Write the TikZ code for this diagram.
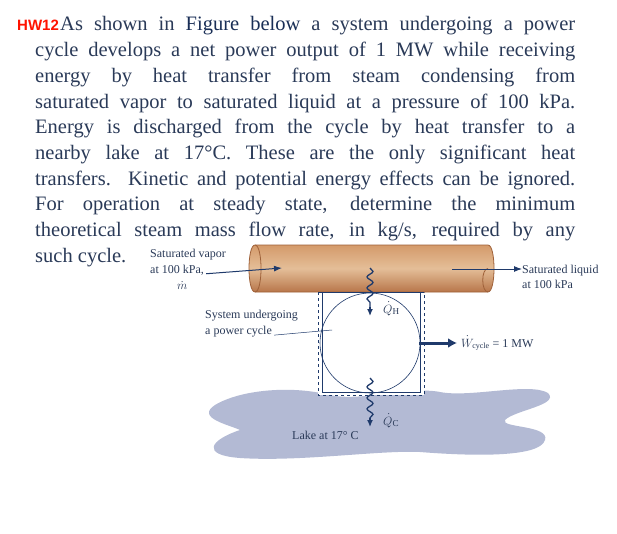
\documentclass[tikz,border=0pt]{standalone}
\usepackage{fontspec}
\setmainfont{Liberation Serif}
\newfontfamily\hwfont{Liberation Sans}
\usetikzlibrary{decorations.pathmorphing,arrows.meta}
\definecolor{ink}{HTML}{2A3A58}
\definecolor{navy}{HTML}{1F3A6B}
\definecolor{lake}{HTML}{B3BAD4}
\definecolor{pipetop}{HTML}{E4BE98}
\definecolor{pipemid}{HTML}{D49A6A}
\definecolor{pipebot}{HTML}{B8764A}
\definecolor{pipedark}{HTML}{9E6038}
\tikzset{
  para/.style={anchor=base west,inner sep=0pt,text=ink,font=\fontsize{20.5}{20}\selectfont},
  lbl/.style={anchor=base west,inner sep=0pt,text=ink,font=\fontsize{12}{13}\selectfont},
  flow/.style={navy,line width=1pt,-{Latex[length=8pt,width=6pt]}},
  wavy/.style={navy,line width=1.3pt,decorate,decoration={snake,segment length=11pt,amplitude=3pt}}
}
\begin{document}
\begin{tikzpicture}[x=1pt,y=-1pt]
\useasboundingbox[fill=white] (0,0) rectangle (617,534);
% paragraph
\node[anchor=base west,inner sep=0pt,text=red!85!orange,font=\hwfont\bfseries\fontsize{15}{15}\selectfont] (hw) at (17,31) {HW12};
\node[para] (l1) at (60,31) {\makebox[515pt][s]{As shown in \textcolor{navy!80!black}{Figure below} a system undergoing a power}};
\node[para] (l2) at (35,56.7) {\makebox[540pt][s]{cycle develops a net power output of 1 MW while receiving}};
\node[para] (l3) at (35,82.4) {\makebox[540pt][s]{energy by heat transfer from steam condensing from}};
\node[para] (l4) at (35,108.1) {\makebox[540pt][s]{saturated vapor to saturated liquid at a pressure of 100 kPa.}};
\node[para] (l5) at (35,133.8) {\makebox[540pt][s]{Energy is discharged from the cycle by heat transfer to a}};
\node[para] (l6) at (35,159.5) {\makebox[540pt][s]{nearby lake at 17°C. These are the only significant heat}};
\node[para] (l7) at (35,185.2) {\makebox[540pt][s]{transfers. Kinetic and potential energy effects can be ignored.}};
\node[para] (l8) at (35,210.9) {\makebox[540pt][s]{For operation at steady state, determine the minimum}};
\node[para] (l9) at (35,236.6) {\makebox[540pt][s]{theoretical steam mass flow rate, in kg/s, required by any}};
\node[para] (l10) at (35,262.3) {such cycle.};
% lake
\fill[lake] (330,395) .. controls (290,385) and (240,390) .. (215,405)
  .. controls (195,418) and (230,425) .. (240,430)
  .. controls (210,440) and (200,455) .. (240,458)
  .. controls (300,462) and (380,450) .. (420,452)
  .. controls (470,456) and (540,458) .. (545,440)
  .. controls (550,425) and (500,428) .. (505,420)
  .. controls (515,410) and (560,405) .. (548,393)
  .. controls (530,382) and (470,398) .. (440,392)
  .. controls (410,386) and (360,402) .. (330,395) -- cycle;
% system box
\fill[white] (318,292) rectangle (424,395);
\draw[navy,line width=0.6pt] (322,292) -- (322,392) -- (420,392) -- (420,292);
\draw[navy,dashed,line width=0.8pt] (318,292) rectangle (424,395);
\draw[navy,line width=0.6pt] (370,343) circle (50);
% pipe
\shade[top color=pipemid,bottom color=pipebot,middle color=pipetop]
  (255,245) -- (488,245) .. controls (496,245) and (496,292) .. (488,292) -- (255,292) .. controls (247,292) and (247,245) .. (255,245) -- cycle;
\draw[pipedark,line width=0.8pt] (255,245) -- (488,245) .. controls (496,245) and (496,292) .. (488,292) -- (255,292) .. controls (247,292) and (247,245) .. (255,245);
\draw[pipedark,line width=0.8pt] (255,245) .. controls (263,245) and (263,292) .. (255,292);
\draw[pipedark,line width=0.8pt] (488,268.5) .. controls (481,268.5) and (481,292) .. (488,292);
\draw[navy,line width=0.6pt] (318,292) -- (424,292);
% heat transfers
\coordinate (qhs) at (370,268);
\coordinate (qhm) at (370,307);
\coordinate (qhe) at (370,316);
\draw[wavy] (qhs) -- (qhm);
\draw[navy,line width=1.3pt,-{Latex[length=7pt,width=6pt]}] (qhm) -- (qhe);
\node[lbl,font=\fontsize{13}{13}\selectfont] (qh) at (383,313) {$\dot Q_{\mathrm{H}}$};
\coordinate (qcs) at (370,378);
\coordinate (qcm) at (370,418);
\coordinate (qce) at (370,427);
\draw[wavy] (qcs) -- (qcm);
\draw[navy,line width=1.3pt,-{Latex[length=7pt,width=6pt]}] (qcm) -- (qce);
\node[lbl,font=\fontsize{13}{13}\selectfont] (qc) at (383,425) {$\dot Q_{\mathrm{C}}$};
% work
\coordinate (ws) at (419,343);
\coordinate (we) at (457,343);
\draw[navy,line width=3pt,-{Latex[length=9pt,width=10pt]}] (ws) -- (we);
\node[lbl] (w) at (461,347) {$\dot W_{\mathrm{cycle}}$ = 1 MW};
% flows
\node[lbl] (sv1) at (150,258) {Saturated vapor};
\node[lbl] (sv2) at (150,273) {at 100 kPa,};
\node[lbl] (md) at (177,289) {$\dot m$};
\coordinate (fi) at (282,268);
\draw[flow] (sv2.east) ++(2pt,-4pt) coordinate (fis) -- (fi);
\coordinate (fos) at (452,269);
\node[lbl] (sl1) at (522,273) {Saturated liquid};
\node[lbl] (sl2) at (522,288) {at 100 kPa};
\draw[flow] (fos) -- (sl1.west|-fos);
\node[lbl] (sys1) at (205,318) {System undergoing};
\node[lbl] (sys2) at (205,334) {a power cycle};
\coordinate (sysp) at (332,330);
\draw[navy,line width=0.5pt] (sys2.east) ++(2pt,-4pt) -- (sysp);
\node[lbl] (lk) at (292,439) {Lake at 17° C};
\end{tikzpicture}
\end{document}
